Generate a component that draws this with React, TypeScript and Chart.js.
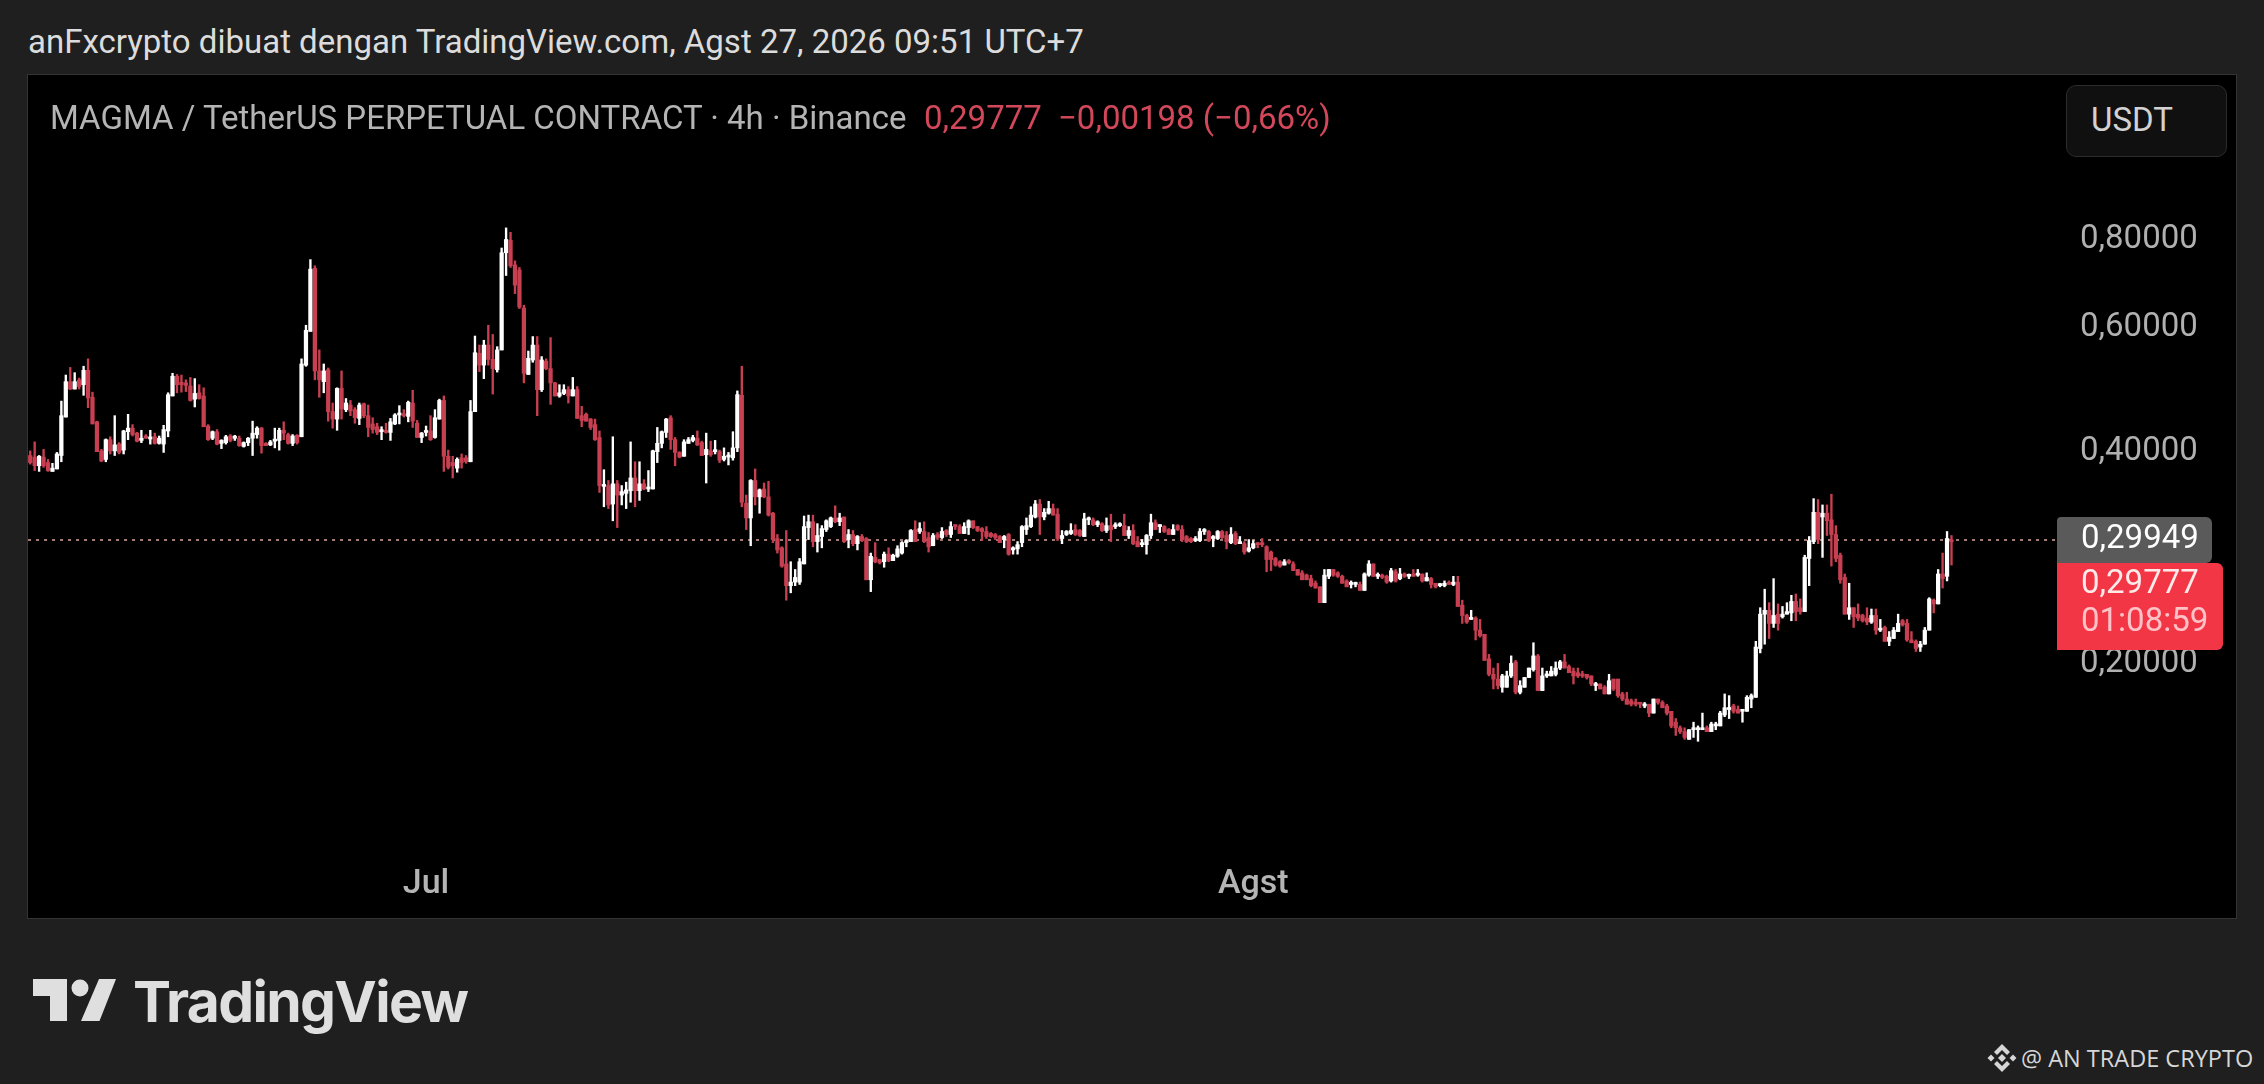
import React, { useEffect, useRef } from "react";
import { Chart, registerables } from "chart.js";

Chart.register(...registerables);

const highs = [
.401,.413,.395,.403,.390,.385,.399,.472,.514,.527,
.518,.509,.529,.542,.486,.442,.403,.417,.420,.450,
.412,.429,.452,.437,.426,.429,.423,.429,.425,.421,
.436,.485,.517,.515,.514,.506,.510,.508,.498,.493,
.437,.428,.430,.416,.422,.423,.422,.421,.413,.419,
.442,.434,.433,.412,.415,.432,.432,.441,.425,.423,
.423,.542,.605,.750,.735,.558,.533,.526,.469,.493,
.521,.476,.473,.462,.469,.469,.466,.447,.439,.434,
.439,.446,.453,.465,.459,.472,.489,.443,.426,.435,
.450,.459,.475,.480,.402,.394,.392,.397,.395,.473,
.584,.567,.576,.605,.587,.564,.779,.832,.820,.747,
.731,.646,.556,.583,.583,.546,.542,.581,.502,.498,
.498,.495,.510,.495,.464,.454,.446,.445,.428,.377,
.364,.420,.364,.358,.362,.413,.387,.387,.365,.376,
.402,.433,.428,.446,.450,.419,.400,.416,.419,.422,
.428,.414,.425,.414,.415,.402,.405,.399,.427,.488,
.529,.347,.365,.378,.354,.361,.363,.328,.305,.293,
.309,.279,.272,.282,.324,.325,.325,.316,.314,.320,
.323,.335,.327,.323,.310,.309,.304,.305,.302,.287,
.297,.281,.288,.292,.286,.294,.298,.300,.310,.319,
.317,.318,.307,.306,.307,.312,.310,.318,.315,.315,
.317,.320,.319,.313,.312,.313,.307,.306,.304,.304,
.306,.293,.298,.314,.322,.334,.341,.342,.332,.340,
.337,.332,.309,.309,.316,.315,.310,.327,.323,.322,
.319,.317,.322,.326,.317,.317,.326,.313,.315,.303,
.300,.305,.326,.320,.315,.314,.311,.315,.315,.314,
.304,.302,.303,.311,.311,.309,.304,.309,.309,.308,
.312,.308,.303,.298,.300,.299,.297,.301,.294,.289,
.283,.280,.281,.281,.279,.272,.271,.268,.267,.262,
.257,.272,.272,.272,.270,.267,.263,.262,.261,.261,
.269,.280,.277,.269,.268,.267,.273,.272,.273,.269,
.268,.272,.272,.268,.269,.265,.260,.260,.262,.262,
.266,.266,.246,.235,.238,.233,.231,.220,.206,.197,
.200,.193,.195,.205,.202,.189,.191,.197,.214,.206,
.197,.195,.198,.201,.202,.206,.199,.197,.197,.195,
.193,.192,.188,.187,.186,.193,.190,.190,.182,.182,
.178,.178,.176,.176,.175,.178,.178,.177,.175,.171,
.167,.163,.162,.161,.165,.163,.170,.163,.165,.165,
.171,.181,.180,.175,.174,.172,.180,.181,.215,.240,
.255,.244,.264,.243,.241,.244,.250,.251,.247,.285,
.303,.343,.342,.336,.336,.348,.314,.287,.268,.260,
.240,.243,.235,.240,.239,.239,.231,.226,.222,.225,
.235,.231,.231,.222,.216,.215,.225,.248,.247,.272,
.287,.308,.304,
];

const lows = [
.384,.376,.375,.380,.375,.375,.378,.387,.448,.490,
.491,.491,.481,.462,.438,.400,.387,.387,.397,.395,
.397,.397,.416,.421,.413,.412,.418,.410,.410,.410,
.399,.420,.480,.485,.486,.487,.472,.463,.475,.434,
.415,.416,.409,.404,.410,.413,.415,.407,.406,.408,
.395,.418,.398,.408,.408,.405,.402,.416,.410,.408,
.410,.420,.529,.593,.506,.478,.485,.442,.432,.429,
.445,.456,.450,.439,.437,.447,.420,.425,.423,.416,
.425,.415,.437,.438,.448,.441,.433,.419,.412,.421,
.415,.418,.445,.375,.378,.367,.374,.379,.385,.387,
.456,.520,.508,.531,.483,.519,.558,.712,.731,.671,
.639,.501,.515,.536,.450,.487,.523,.467,.480,.478,
.482,.469,.480,.446,.434,.442,.430,.415,.350,.334,
.332,.319,.312,.336,.332,.339,.334,.341,.353,.351,
.354,.386,.405,.419,.403,.382,.392,.394,.411,.413,
.408,.395,.361,.394,.397,.386,.388,.383,.389,.400,
.334,.310,.294,.336,.327,.344,.324,.297,.287,.274,
.246,.252,.258,.259,.277,.300,.293,.288,.292,.308,
.312,.317,.314,.297,.292,.294,.290,.298,.263,.253,
.278,.277,.274,.279,.280,.283,.286,.293,.298,.298,
.306,.297,.288,.294,.300,.301,.303,.302,.310,.306,
.306,.305,.311,.308,.299,.301,.302,.300,.297,.292,
.285,.286,.286,.293,.305,.312,.322,.305,.320,.326,
.325,.299,.296,.304,.305,.304,.303,.303,.315,.314,
.313,.308,.307,.298,.311,.313,.304,.301,.295,.293,
.293,.286,.301,.310,.307,.307,.305,.305,.309,.298,
.297,.297,.298,.298,.305,.298,.293,.300,.301,.291,
.296,.295,.296,.286,.288,.291,.292,.293,.270,.271,
.275,.274,.276,.277,.271,.267,.263,.263,.257,.256,
.244,.244,.264,.266,.265,.260,.257,.256,.257,.254,
.254,.266,.266,.264,.264,.260,.261,.261,.263,.265,
.264,.266,.266,.261,.262,.256,.256,.257,.257,.259,
.258,.241,.228,.228,.231,.216,.218,.202,.192,.184,
.184,.182,.185,.191,.181,.181,.185,.191,.195,.183,
.183,.191,.192,.192,.196,.197,.194,.187,.191,.191,
.190,.186,.183,.184,.181,.181,.183,.179,.177,.175,
.174,.174,.173,.173,.168,.170,.175,.173,.169,.162,
.158,.159,.156,.156,.157,.155,.161,.160,.160,.161,
.163,.168,.167,.170,.170,.165,.171,.173,.179,.207,
.213,.217,.225,.223,.232,.235,.230,.230,.235,.237,
.258,.296,.296,.283,.304,.275,.279,.260,.235,.231,
.225,.230,.229,.227,.228,.220,.222,.215,.212,.217,
.222,.226,.215,.214,.208,.208,.213,.223,.236,.243,
.256,.262,.276,
];

const opens = [
.395,.393,.382,.393,.386,.375,.378,.395,.448,.503,
.491,.506,.498,.522,.478,.441,.401,.390,.416,.401,
.410,.402,.427,.432,.425,.415,.421,.417,.420,.411,
.410,.428,.480,.512,.502,.501,.496,.475,.485,.480,
.435,.418,.427,.411,.412,.421,.418,.418,.407,.412,
.418,.423,.432,.411,.409,.414,.415,.429,.423,.411,
.422,.420,.531,.593,.729,.521,.503,.523,.456,.445,
.492,.459,.466,.459,.446,.468,.450,.438,.434,.427,
.428,.426,.438,.451,.453,.449,.469,.439,.419,.426,
.428,.419,.445,.473,.394,.386,.379,.392,.392,.387,
.456,.552,.531,.567,.541,.523,.558,.767,.799,.737,
.725,.640,.515,.540,.567,.490,.538,.525,.501,.480,
.484,.490,.480,.490,.450,.452,.445,.437,.419,.357,
.358,.337,.360,.347,.349,.352,.367,.352,.360,.354,
.354,.400,.411,.426,.447,.416,.399,.394,.411,.415,
.418,.412,.396,.401,.400,.400,.390,.393,.392,.405,
.481,.338,.322,.364,.345,.354,.345,.327,.301,.292,
.277,.258,.261,.261,.277,.312,.318,.298,.303,.310,
.313,.322,.318,.323,.300,.305,.296,.303,.301,.263,
.283,.281,.279,.286,.280,.284,.287,.297,.298,.310,
.308,.308,.302,.294,.305,.302,.309,.305,.314,.313,
.306,.312,.319,.313,.311,.308,.306,.305,.303,.300,
.305,.290,.291,.297,.310,.313,.323,.337,.323,.327,
.332,.326,.301,.305,.306,.310,.309,.303,.320,.320,
.315,.316,.309,.314,.313,.314,.314,.304,.309,.298,
.295,.295,.304,.317,.313,.313,.310,.305,.314,.310,
.303,.301,.299,.299,.308,.308,.301,.301,.308,.304,
.297,.306,.296,.296,.289,.292,.296,.297,.293,.288,
.282,.279,.276,.280,.277,.272,.269,.267,.264,.260,
.257,.244,.266,.272,.269,.266,.262,.259,.259,.259,
.254,.267,.277,.266,.267,.266,.262,.270,.264,.268,
.266,.268,.267,.268,.262,.264,.260,.258,.258,.260,
.259,.261,.242,.234,.231,.232,.223,.220,.203,.193,
.190,.185,.185,.192,.201,.182,.185,.191,.196,.205,
.183,.192,.192,.193,.197,.201,.198,.195,.194,.193,
.193,.192,.186,.187,.185,.181,.190,.190,.181,.178,
.177,.176,.176,.174,.175,.170,.178,.176,.174,.171,
.165,.162,.160,.156,.161,.161,.161,.162,.160,.163,
.163,.169,.172,.174,.172,.171,.171,.178,.179,.210,
.235,.238,.228,.235,.233,.235,.236,.245,.240,.237,
.282,.298,.328,.323,.327,.320,.305,.285,.265,.235,
.240,.235,.234,.232,.229,.234,.223,.225,.215,.217,
.222,.230,.228,.216,.215,.211,.213,.223,.246,.243,
.268,.266,.29975,
];

const closes = [
.386,.382,.394,.382,.376,.379,.397,.450,.503,.491,
.503,.495,.522,.477,.438,.400,.388,.416,.401,.409,
.399,.428,.432,.423,.414,.418,.418,.419,.411,.418,
.430,.482,.512,.498,.498,.497,.473,.484,.476,.434,
.416,.427,.410,.415,.420,.415,.420,.408,.412,.418,
.425,.432,.408,.408,.413,.416,.429,.425,.411,.421,
.412,.533,.595,.727,.521,.506,.521,.456,.445,.492,
.460,.469,.457,.447,.466,.450,.433,.430,.426,.429,
.426,.441,.451,.453,.450,.470,.442,.419,.425,.428,
.416,.447,.473,.394,.380,.382,.390,.386,.387,.456,
.553,.531,.567,.541,.525,.558,.767,.801,.735,.690,
.642,.517,.543,.567,.490,.540,.525,.501,.480,.485,
.490,.480,.490,.446,.443,.442,.433,.416,.358,.359,
.336,.360,.347,.351,.353,.367,.352,.360,.354,.356,
.401,.411,.427,.445,.416,.399,.393,.413,.416,.419,
.409,.395,.403,.396,.402,.389,.394,.395,.405,.482,
.339,.322,.364,.345,.353,.345,.325,.300,.290,.275,
.258,.261,.265,.279,.313,.318,.298,.304,.311,.319,
.322,.318,.322,.298,.305,.296,.303,.299,.263,.284,
.279,.278,.286,.280,.285,.291,.297,.299,.309,.298,
.311,.298,.293,.304,.302,.308,.305,.313,.313,.306,
.313,.319,.312,.309,.308,.303,.303,.302,.297,.303,
.286,.292,.295,.313,.314,.325,.337,.323,.328,.332,
.325,.301,.304,.308,.309,.305,.304,.321,.322,.315,
.318,.309,.314,.310,.314,.315,.304,.309,.296,.293,
.296,.304,.317,.310,.314,.308,.305,.310,.310,.300,
.298,.298,.301,.308,.310,.299,.303,.308,.302,.298,
.305,.296,.298,.288,.292,.296,.295,.295,.281,.281,
.276,.275,.279,.278,.271,.267,.263,.263,.258,.256,
.244,.267,.272,.267,.266,.260,.257,.260,.260,.254,
.268,.277,.266,.267,.265,.261,.271,.262,.268,.266,
.267,.266,.268,.262,.265,.259,.257,.259,.260,.259,
.261,.241,.234,.229,.232,.223,.219,.202,.193,.190,
.186,.192,.192,.200,.182,.186,.191,.197,.205,.183,
.192,.193,.195,.197,.201,.197,.194,.192,.192,.192,
.191,.187,.187,.184,.181,.189,.184,.180,.178,.175,
.175,.175,.175,.175,.170,.178,.176,.173,.170,.163,
.162,.160,.157,.161,.162,.162,.162,.160,.164,.164,
.170,.173,.173,.171,.170,.172,.179,.180,.211,.235,
.238,.228,.234,.228,.235,.237,.245,.237,.237,.283,
.299,.328,.300,.327,.319,.305,.282,.263,.235,.240,
.233,.232,.230,.229,.234,.223,.224,.215,.218,.223,
.228,.227,.216,.214,.210,.213,.223,.247,.243,.268,
.264,.301,.29777,
];

const yTicks = [0.2, 0.4, 0.6, 0.8];
const monthLabels: Record<number, string> = { 89: "Jul", 275: "Agst" };
const slotCount = 456;
const prevClose = 0.29949;
const lastPrice = 0.29777;
const countdown = "01:08:59";

const titleText = "anFxcrypto dibuat dengan TradingView.com, Agst 27, 2026 09:51 UTC+7";
const symbolText = "MAGMA / TetherUS PERPETUAL CONTRACT · 4h · Binance";
const lastText = "0,29777";
const changeText = "−0,00198 (−0,66%)";

const UP = "#ffffff";
const DOWN = "#c73f50";
const fmt = (v: number) => v.toFixed(5).replace(".", ",");

const tagsPlugin = {
  id: "priceTags",
  beforeDatasetsDraw(chart: any) {
    const { ctx, chartArea, scales } = chart;
    const y = Math.round(scales.y.getPixelForValue(prevClose));
    ctx.save();
    ctx.strokeStyle = "#a07a70";
    ctx.lineWidth = 2;
    ctx.setLineDash([3, 5]);
    ctx.beginPath();
    ctx.moveTo(chartArea.left, y);
    ctx.lineTo(chartArea.right, y);
    ctx.stroke();
    ctx.restore();
  },
  afterDraw(chart: any) {
    const { ctx, chartArea, scales } = chart;
    const y = scales.y.getPixelForValue(prevClose);
    const x0 = chartArea.right + 1;
    const tx = x0 + 24;
    ctx.save();
    ctx.fillStyle = "#5a5a5a";
    ctx.beginPath();
    ctx.roundRect(x0, y - 23, 155, 46, [4, 6, 6, 0]);
    ctx.fill();
    ctx.fillStyle = "#f23645";
    ctx.beginPath();
    ctx.roundRect(x0, y + 23, 166, 87, [0, 6, 6, 0]);
    ctx.fill();
    ctx.textAlign = "left";
    ctx.textBaseline = "middle";
    ctx.font = "33px Roboto";
    ctx.fillStyle = "#ffffff";
    ctx.fillText(fmt(prevClose), tx, y);
    ctx.fillStyle = "#ffeaea";
    ctx.fillText(fmt(lastPrice), tx, y + 45);
    ctx.fillStyle = "#ffc2c6";
    ctx.fillText(countdown, tx, y + 83);
    ctx.restore();
  },
};

export default function App() {
  const ref = useRef<HTMLCanvasElement>(null);

  useEffect(() => {
    if (!ref.current) return;
    const colors = opens.map((o, i) => (closes[i] >= o ? UP : DOWN));
    const labels = Array.from({ length: slotCount }, (_, i) => monthLabels[i] ?? "");
    const chart = new Chart(ref.current, {
      type: "bar",
      data: {
        labels,
        datasets: [
          {
            label: "Body",
            data: opens.map((o, i) => [Math.min(o, closes[i]), Math.max(o, closes[i])]) as any,
            backgroundColor: colors,
            barThickness: 3.6,
            minBarLength: 2,
            grouped: false,
          } as any,
          {
            label: "Wick",
            data: highs.map((h, i) => [lows[i], h]) as any,
            backgroundColor: colors,
            barThickness: 1.7,
            grouped: false,
          } as any,
        ],
      },
      options: {
        responsive: false,
        animation: false,
        devicePixelRatio: 1,
        layout: { padding: 0 },
        plugins: { legend: { display: false }, tooltip: { enabled: false }, title: { display: false } },
        scales: {
          x: {
            type: "category",
            grid: { display: false, drawTicks: false },
            border: { display: false },
            afterBuildTicks: (s: any) => {
              s.ticks = s.ticks.filter((t: any) => monthLabels[t.value]);
            },
            afterFit: (s: any) => {
              s.height = 68;
              s.paddingLeft = 0;
              s.paddingRight = 0;
            },
            ticks: {
              autoSkip: false,
              maxRotation: 0,
              padding: 14,
              color: "#b4b4b4",
              font: { family: "Roboto", size: 34, weight: "500" },
              callback: (_v: any, i: number, t: any) => monthLabels[t[i].value],
            },
          },
          y: {
            type: "logarithmic",
            position: "right",
            min: 0.1086,
            max: 1.3724,
            grid: { display: false, drawTicks: false },
            border: { display: false },
            afterBuildTicks: (s: any) => {
              s.ticks = yTicks.map((value) => ({ value }));
            },
            afterFit: (s: any) => {
              s.width = 180;
              s.paddingTop = 0;
              s.paddingBottom = 0;
            },
            ticks: {
              autoSkip: false,
              padding: 24,
              color: "#b0b0b0",
              font: { family: "Roboto", size: 33 },
              callback: (v: any) => fmt(Number(v)),
            },
          },
        },
      } as any,
      plugins: [tagsPlugin],
    });
    return () => chart.destroy();
  }, []);

  const abs = (left: number, top: number, extra: React.CSSProperties = {}): React.CSSProperties => ({
    position: "absolute",
    left,
    top,
    whiteSpace: "nowrap",
    fontFamily: "Roboto",
    ...extra,
  });

  return (
    <div style={{ position: "absolute", left: 0, top: 0, width: 2264, height: 1084, background: "#1f1f1f", overflow: "hidden" }}>
      <div style={abs(28, 22, { fontSize: 33, lineHeight: "40px", color: "#dcdcdc" })}>{titleText}</div>
      <div style={{ position: "absolute", left: 27, top: 74, width: 2208, height: 843, border: "1px solid #343434", background: "#000" }} />
      <canvas ref={ref} width={2208} height={843} style={{ position: "absolute", left: 28, top: 75, width: 2208, height: 843 }} />
      <div style={abs(50, 98, { fontSize: 33, lineHeight: "40px", color: "#b4b4b4" })}>{symbolText}</div>
      <div style={abs(924, 98, { fontSize: 33, lineHeight: "40px", color: "#d2485a" })}>{lastText}</div>
      <div style={abs(1058, 98, { fontSize: 33, lineHeight: "40px", color: "#d2485a" })}>{changeText}</div>
      <div style={{ position: "absolute", left: 2066, top: 85, width: 159, height: 70, borderRadius: 10, border: "1px solid #2c2c2c", background: "#101010" }} />
      <div style={abs(2091, 100, { fontSize: 33, lineHeight: "40px", color: "#d2d2d2" })}>USDT</div>

      <svg style={{ position: "absolute", left: 0, top: 960 }} width={140} height={80} viewBox="0 960 140 80">
        <path d="M33 979H67V1021H50V996H33Z" fill="#dfdfdf" />
        <circle cx={80} cy={988} r={8.5} fill="#dfdfdf" />
        <path d="M99 979H116L99.5 1021H81Z" fill="#dfdfdf" />
      </svg>
      <div style={abs(133, 962, { fontFamily: "Inter", fontSize: 57, fontWeight: 700, lineHeight: "80px", color: "#dfdfdf", letterSpacing: -1.7 })}>TradingView</div>

      <svg style={{ position: "absolute", left: 1986, top: 1042 }} width={32} height={32} viewBox="0 0 32 32">
        <path d="M16 2L24 10L21 13L16 8L11 13L8 10Z M16 30L24 22L21 19L16 24L11 19L8 22Z M16 12L20 16L16 20L12 16Z M5 12.5L8.5 16L5 19.5L1.5 16Z M27 12.5L30.5 16L27 19.5L23.5 16Z" fill="#d6d6d6" />
      </svg>
      <div style={abs(2021, 1042, { fontFamily: "Open Sans", fontSize: 23.5, lineHeight: "32px", color: "#d6d6d6" })}>@ AN TRADE CRYPTO</div>
    </div>
  );
}
